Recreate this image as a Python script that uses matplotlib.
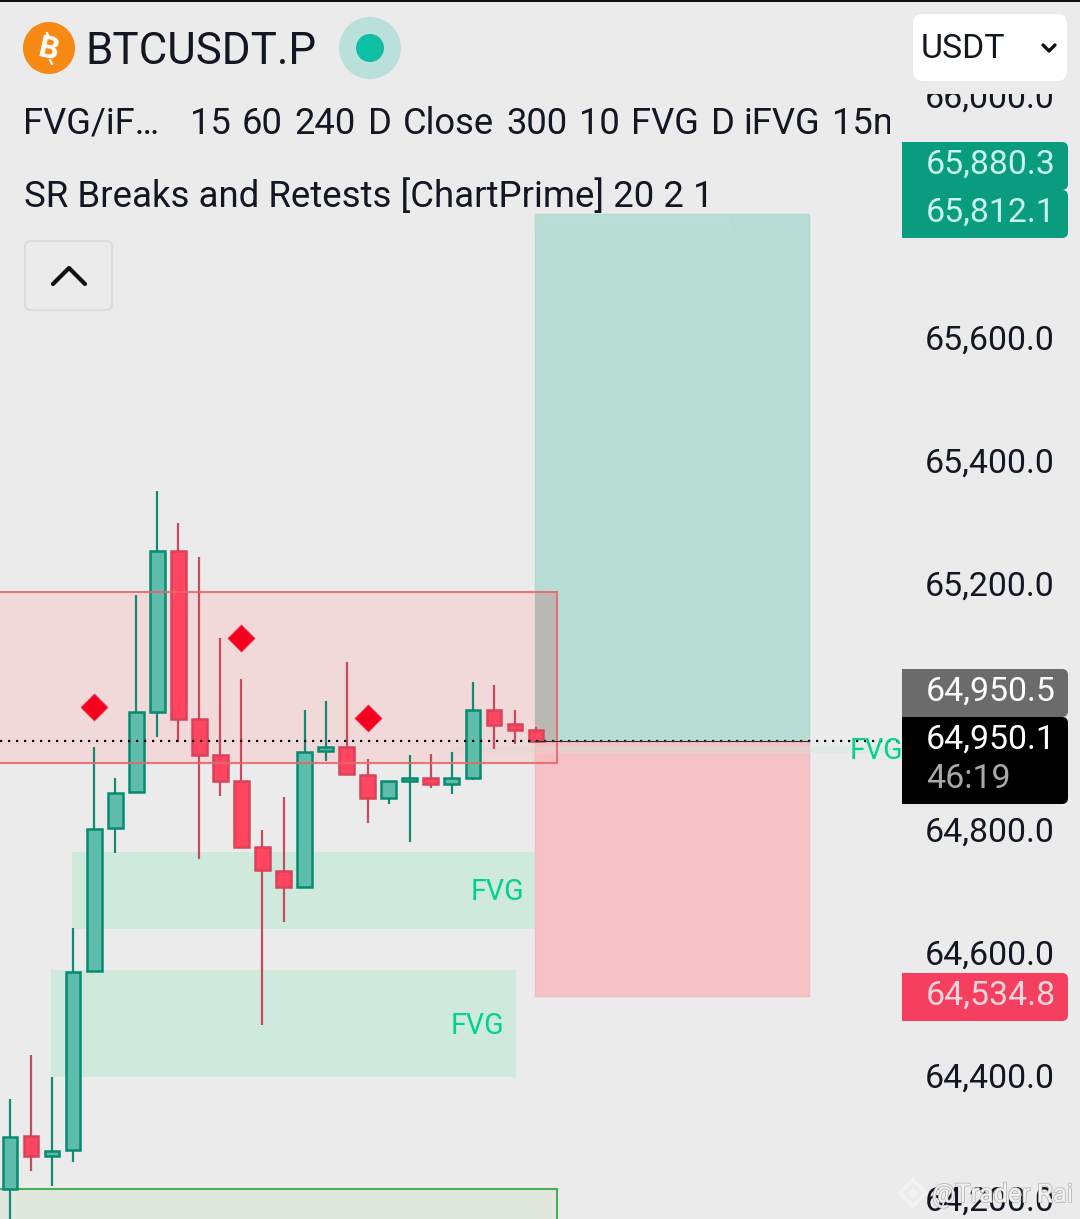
import matplotlib
matplotlib.use("Agg")
import matplotlib.pyplot as plt
import matplotlib.patheffects as pe
from matplotlib.patches import Rectangle, FancyBboxPatch, Circle, Polygon
from matplotlib.transforms import ScaledTranslation

plt.rcParams["font.family"] = ["Roboto", "DejaVu Sans"]

# candles, oldest first
opens = [64221, 64307, 64275, 64285, 64576, 64808, 64867, 64997, 65259, 64986, 64927, 64885, 64778,
         64738, 64712, 64934, 64940, 64895, 64857, 64885, 64890, 64880, 64890, 65000, 64978, 64968]
highs = [64368, 64439, 64403, 64646, 64940, 64890, 65188, 65357, 65305, 65249, 65118, 65051, 64805,
         64859, 65000, 65015, 65079, 64921, 64885, 64927, 64929, 64932, 65046, 65041, 65000, 64973]
lows = [64154, 64250, 64226, 64265, 64576, 64768, 64867, 64957, 64948, 64758, 64861, 64778, 64488,
        64656, 64712, 64917, 64896, 64817, 64847, 64786, 64874, 64864, 64887, 64937, 64945, 64950]
closes = [64306, 64275, 64283, 64574, 64807, 64865, 64997, 65259, 64986, 64927, 64885, 64778, 64740,
          64712, 64932, 64940, 64896, 64857, 64885, 64890, 64880, 64890, 65000, 64976, 64968, 64950]

signal_bars = [4, 11, 17]
signal_prices = [65005, 65118, 64987]

yticks = [64200, 64400, 64600, 64800, 65200, 65400, 65600, 66000]
last_price = 64950.1
target_price = 65808
stop_price = 64534.8

# zones: bar start, bar end, price low, price high
fvg_zones = [(2.95, 25.0, 64644, 64769), (1.95, 24.05, 64403, 64577)]
thin_fvg = [(20.9, 42.5, 64930, 64942, 0.4), (24.97, 34.2, 65780, 65808, 0.15)]
resistance = (-2, 26.0, 64914, 65192)
support = (-2, 26.0, 64100, 64221)
tool_start = 24.97
tool_end = 37.98

# legend line words and where each one starts
legend_words = ["15", "60", "240", "D", "Close", "300", "10", "FVG", "D", "iFVG", "15m"]
legend_x = [190, 242, 294, 368, 403, 506, 579, 631, 711, 743, 832]

fig = plt.figure(figsize=(10.8, 12.19), dpi=100, facecolor="#ebebeb")

ax = fig.add_axes([0, 0, 902 / 1080, 1], facecolor="#ebebeb")
ax.set_xlim(-10 / 21.04, 892 / 21.04)
ax.set_ylim(64172.3, 66155.6)
for s in ax.spines.values():
    s.set_visible(False)
ax.set_xticks([])
ax.yaxis.tick_right()
ax.set_yticks(yticks, labels=[f"{v:,.1f}" for v in yticks])
ax.tick_params(axis="y", length=0, pad=16.5, labelsize=24.4, labelcolor="#131722")
nudge = ScaledTranslation(0, 3 / 72, fig.dpi_scale_trans)
for lab in ax.get_yticklabels()[:-1]:
    lab.set_transform(lab.get_transform() + nudge)

for x0, x1, lo, hi in fvg_zones:
    ax.add_patch(Rectangle((x0, lo), x1 - x0, hi - lo, fc="#cfeadc", ec="none", zorder=1))
ax.text(23.19, 64705, "FVG", color="#00d48a", fontsize=20.6, ha="center", va="center", zorder=6)
ax.text(22.2, 64487, "FVG", color="#00d48a", fontsize=20.6, ha="center", va="center", zorder=6)
ax.text(41.16, 64933, "FVG", color="#00d48a", fontsize=20.6, ha="center", va="center", zorder=6)

ax.add_patch(Rectangle((support[0], support[2]), support[1] - support[0], support[3] - support[2],
                       fc="#e1e8df", ec="#4caf50", lw=1.5, zorder=1))

ax.add_patch(Rectangle((tool_start, last_price), tool_end - tool_start, target_price - last_price,
                       fc="#b7dcd4", ec="#b0d9d0", lw=1, zorder=2))
ax.add_patch(Rectangle((tool_start, stop_price), tool_end - tool_start, last_price - stop_price,
                       fc="#f5c2c8", ec="#f3bac2", lw=1, zorder=2))
for x0, x1, lo, hi, a in thin_fvg:
    ax.add_patch(Rectangle((x0, lo), x1 - x0, hi - lo, fc="#cfeadc", ec="none", alpha=a, zorder=2.5))

# fill sits under the candles, the outline runs over them
ax.add_patch(Rectangle((resistance[0], resistance[2]), resistance[1] - resistance[0],
                       resistance[3] - resistance[2], fc=(1, 0.71, 0.73, 0.35), ec="none", zorder=2.7))
ax.add_patch(Rectangle((tool_start, last_price), resistance[1] - tool_start, resistance[3] - last_price,
                       fc=(0, 0, 0, 0.1), ec="none", zorder=2.8))

for i in range(len(opens)):
    up = closes[i] >= opens[i]
    wick = "#148a73" if up else "#c94a5c"
    body = "#5dbdaa" if up else "#ff4560"
    edge = "#078a70" if up else "#d9435a"
    ax.vlines(i, lows[i], highs[i], color=wick, lw=1.6, zorder=3)
    ax.bar(i, abs(closes[i] - opens[i]), bottom=min(opens[i], closes[i]), width=0.7,
           color=body, edgecolor=edge, linewidth=1.8, zorder=3.5)

ax.add_patch(Rectangle((resistance[0], resistance[2]), resistance[1] - resistance[0],
                       resistance[3] - resistance[2], fc="none", ec="#e8696b", lw=1.5, alpha=0.9, zorder=4))

ax.scatter(signal_bars, signal_prices, marker="D", s=190, color="#f5001f", edgecolors="#e8405a", lw=0.5, zorder=5)
ax.axhline(last_price, color="#000000", lw=1.6, ls=(0, (1, 2.6)), zorder=5)
ax.plot([tool_start, tool_end], [last_price, last_price], color="#333333", lw=0.8, zorder=5)

# screen furniture on top, in pixels
ui = fig.add_axes([0, 0, 1, 1], facecolor="none")
ui.set_xlim(0, 1080)
ui.set_ylim(1219, 0)
ui.axis("off")


def badge(y0, y1, color):
    ui.add_patch(FancyBboxPatch((908, y0 + 6), 154, y1 - y0 - 12, boxstyle="round,pad=6", fc=color, ec="none"))
    ui.add_patch(Rectangle((902, y0), 30, y1 - y0, fc=color, ec="none"))


def label(y, s, color):
    ui.text(926, y, s, color=color, fontsize=24.4, va="center_baseline", ha="left")


ui.add_patch(Rectangle((0, 0), 1080, 1.5, fc="#111111", ec="none"))
ui.add_patch(Rectangle((905, 70), 170, 24, fc="#ebebeb", ec="none"))

ui.add_patch(Circle((49, 48), 26, fc="#f68a14", ec="none"))
ui.text(49, 49, "B", color="#ffffff", fontsize=23, fontweight="bold", rotation=-12, ha="center", va="center")
ui.plot([47, 49], [33, 37], color="#ffffff", lw=1.5)
ui.plot([50, 52], [60, 64], color="#ffffff", lw=1.5)
ui.text(85.5, 48, "BTCUSDT.P", color="#131722", fontsize=31.6, va="center_baseline")
ui.add_patch(Circle((370, 48), 31, fc="#b9e0da", ec="none"))
ui.add_patch(Circle((370, 48), 14, fc="#0fbfa3", ec="none"))

clip = Rectangle((0, 0), 890, 1219, transform=ui.transData)
ui.text(23.5, 120, "FVG/iF…", color="#131722", fontsize=26.2, va="center_baseline")
for word, wx in zip(legend_words, legend_x):
    t = ui.text(wx, 120, word, color="#131722", fontsize=26.2, va="center_baseline")
    t.set_clip_path(clip)
    t.set_clip_on(True)
ui.text(23.5, 193, "SR Breaks and Retests [ChartPrime] 20 2 1", color="#131722", fontsize=26.4, va="center_baseline")

ui.add_patch(FancyBboxPatch((31, 247), 75, 57, boxstyle="round,pad=6", fc="#ebebeb", ec="#dcdcdc", lw=1.5))
ui.plot([53, 69, 85], [284, 268, 284], color="#111111", lw=3, solid_capstyle="round")

ui.add_patch(FancyBboxPatch((923, 24), 134, 47, boxstyle="round,pad=10", fc="#ffffff", ec="none"))
ui.text(921, 46, "USDT", color="#131722", fontsize=24.4, va="center_baseline")
ui.plot([1043, 1049, 1055], [45, 51, 45], color="#111111", lw=2.4, solid_capstyle="round")

badge(142, 190, "#0a9c7f")
badge(190, 238, "#0a9c7f")
label(161, "65,880.3", "#c8f5ec")
label(209, "65,812.1", "#c8f5ec")
badge(669, 717, "#6b6b6b")
label(688, "64,950.5", "#ffffff")
badge(717, 804, "#000000")
label(736, "64,950.1", "#ffffff")
label(776, "46:19", "#a8a8a8")
badge(973, 1021, "#f43f5e")
label(992, "64,534.8", "#f9d5dc")

halo = [pe.withStroke(linewidth=1.2, foreground="#b8b8b8")]
ui.text(932, 1195, "@Trader Rai", color="#f2f2f2", fontsize=18.6, va="center", path_effects=halo)
ui.add_patch(Polygon([(913, 1180), (926, 1193), (913, 1206), (900, 1193)], closed=True, fc="none", ec="#f2f2f2", lw=2.6))
ui.add_patch(Polygon([(913, 1188), (918, 1193), (913, 1198), (908, 1193)], closed=True, fc="#f2f2f2", ec="none"))

fig.savefig("out.png", dpi=100, facecolor=fig.get_facecolor())
